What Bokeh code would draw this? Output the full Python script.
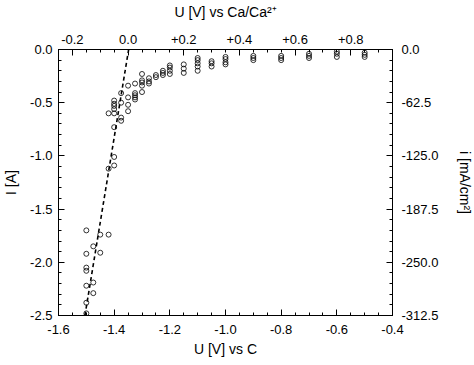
from bokeh.plotting import figure
from bokeh.models import Range1d, LinearAxis, FixedTicker, NumeralTickFormatter, CustomJSTickFormatter
from bokeh.embed import file_html
from bokeh.resources import INLINE

# ---- data ----
u_vs_c = [
    -1.5, -1.5, -1.5, -1.5, -1.5, -1.5, -1.5,
    -1.475, -1.475, -1.475,
    -1.45, -1.45,
    -1.42, -1.42, -1.42,
    -1.4, -1.4, -1.4, -1.4, -1.4, -1.4, -1.4, -1.4,
    -1.375, -1.375, -1.375, -1.375,
    -1.35, -1.35, -1.35, -1.35,
    -1.325, -1.325, -1.325, -1.325, -1.325,
    -1.3, -1.3, -1.3, -1.3, -1.3,
    -1.275, -1.275, -1.275,
    -1.25, -1.25,
    -1.225, -1.225, -1.225,
    -1.2, -1.2, -1.2, -1.2,
    -1.15, -1.15, -1.15,
    -1.1, -1.1, -1.1, -1.1, -1.1,
    -1.05, -1.05, -1.05,
    -1.0, -1.0, -1.0, -1.0,
    -0.9, -0.9, -0.9,
    -0.8, -0.8, -0.8,
    -0.7, -0.7, -0.7,
    -0.6, -0.6, -0.6,
    -0.5, -0.5, -0.5,
]
current = [
    -1.70, -1.92, -2.05, -2.08, -2.22, -2.38, -2.48,
    -1.85, -2.19, -2.29,
    -1.74, -1.91,
    -1.74, -1.12, -0.60,
    -0.48, -0.51, -0.53, -0.56, -0.60, -0.73, -1.01, -1.09,
    -0.41, -0.50, -0.64, -0.67,
    -0.34, -0.45, -0.52, -0.58,
    -0.32, -0.41, -0.43, -0.45, -0.47,
    -0.23, -0.29, -0.31, -0.34, -0.40,
    -0.27, -0.30, -0.32,
    -0.24, -0.26,
    -0.20, -0.22, -0.24,
    -0.15, -0.17, -0.20, -0.23,
    -0.14, -0.18, -0.22,
    -0.08, -0.10, -0.13, -0.16, -0.20,
    -0.11, -0.13, -0.16,
    -0.07, -0.09, -0.12, -0.14,
    -0.06, -0.08, -0.10,
    -0.06, -0.08, -0.10,
    -0.04, -0.06, -0.08,
    -0.02, -0.04, -0.07,
    -0.03, -0.05, -0.07,
]
# dashed fit line
fit_u = [-1.505, -1.348]
fit_i = [-2.5, 0.0]

# axis ticks
bottom_ticks = [-1.6, -1.4, -1.2, -1.0, -0.8, -0.6, -0.4]
top_ticks = [-0.2, 0.0, 0.2, 0.4, 0.6, 0.8]
left_ticks = [0.0, -0.5, -1.0, -1.5, -2.0, -2.5]
right_ticks = [0.0, -62.5, -125.0, -187.5, -250.0, -312.5]
ca_offset = 1.35       # U vs Ca/Ca2+ = U vs C + offset
cd_factor = 125.0      # mA/cm^2 per A

FONT = "Liberation Sans"

p = figure(frame_width=334, frame_height=266, output_backend="svg", toolbar_location=None,
           x_range=Range1d(-1.6, -0.4), y_range=Range1d(-2.5, 0.0),
           x_axis_location=None, y_axis_location=None,
           min_border_left=50, min_border_right=76, min_border_top=44, min_border_bottom=38)
p.extra_x_ranges = {"ca": Range1d(-1.6 + ca_offset, -0.4 + ca_offset)}
p.extra_y_ranges = {"cd": Range1d(-2.5 * cd_factor, 0.0)}
p.grid.visible = False
p.outline_line_color = "black"
p.outline_line_width = 1
p.background_fill_color = "white"
p.border_fill_color = "white"


def style(ax, label_standoff, title_standoff):
    ax.major_label_text_font = FONT
    ax.major_label_text_font_size = "13px"
    ax.major_label_text_color = "black"
    ax.axis_label_text_font = FONT
    ax.axis_label_text_font_size = "14px"
    ax.axis_label_text_font_style = "normal"
    ax.axis_label_text_color = "black"
    ax.major_tick_in = 6
    ax.major_tick_out = 0
    ax.minor_tick_in = 3
    ax.minor_tick_out = 0
    ax.axis_line_color = "black"
    ax.major_tick_line_color = "black"
    ax.minor_tick_line_color = "black"
    ax.major_label_standoff = label_standoff
    ax.axis_label_standoff = title_standoff


def minor(lo, hi, step):
    n = int(round((hi - lo) / step))
    return [round(lo + k * step, 4) for k in range(n + 1)]


bottom = LinearAxis(axis_label="U [V] vs C",
                    ticker=FixedTicker(ticks=bottom_ticks, minor_ticks=minor(-1.6, -0.4, 0.05)),
                    formatter=NumeralTickFormatter(format="0.0"))
style(bottom, 9, 4)
p.add_layout(bottom, "below")

top = LinearAxis(x_range_name="ca", axis_label="U [V] vs Ca/Ca\u00b2\u207a",
                 ticker=FixedTicker(ticks=top_ticks, minor_ticks=minor(-0.25, 0.95, 0.05)),
                 formatter=CustomJSTickFormatter(code="""
                     if (Math.abs(tick) < 1e-9) return '0.0';
                     return (tick > 0 ? '+' : '') + tick.toFixed(1);
                 """))
style(top, 6, 12)
p.add_layout(top, "above")

left = LinearAxis(axis_label="I [A]",
                  ticker=FixedTicker(ticks=left_ticks, minor_ticks=minor(-2.5, 0.0, 0.1)),
                  formatter=NumeralTickFormatter(format="0.0"))
style(left, 6, 8)
p.add_layout(left, "left")

right = LinearAxis(y_range_name="cd", axis_label="i [mA/cm\u00b2]",
                   ticker=FixedTicker(ticks=right_ticks, minor_ticks=minor(-312.5, 0.0, 12.5)),
                   formatter=NumeralTickFormatter(format="0.0"))
style(right, 9, 16)
p.add_layout(right, "right")

p.line(fit_u, fit_i, line_color="black", line_width=1.6, line_dash="4 3")
p.scatter(u_vs_c, current, marker="circle", size=5, fill_color=None,
          line_color="black", line_width=0.8)

open("out.html", "w").write(file_html(p, INLINE))
